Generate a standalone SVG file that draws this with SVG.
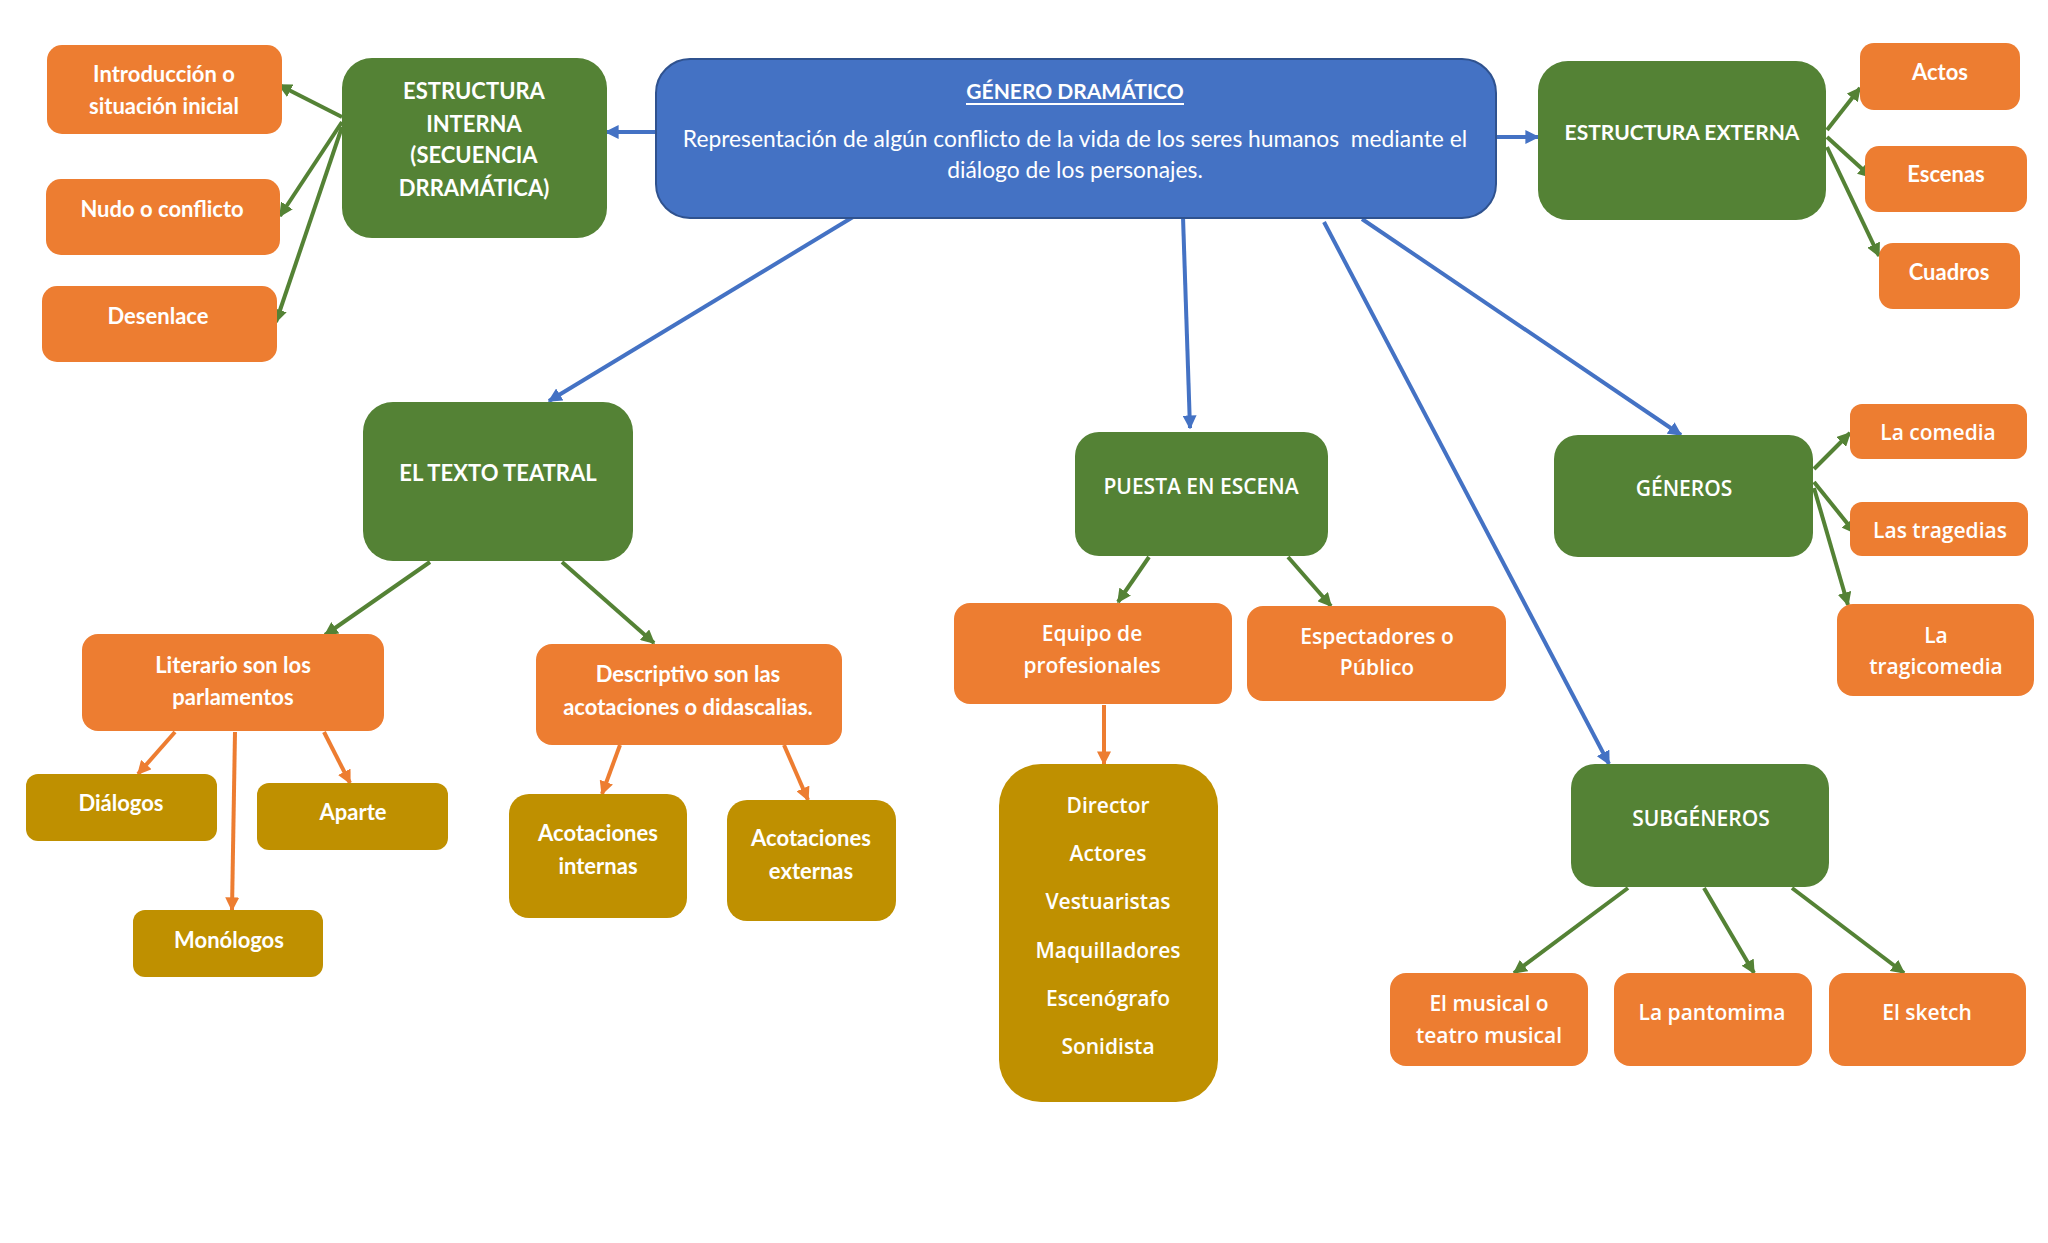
<svg xmlns="http://www.w3.org/2000/svg" width="2048" height="1243" viewBox="0 0 2048 1243">
<style>
.or{fill:#ED7D31}
.gr{fill:#548235}
.go{fill:#BF9000}
.bl{fill:#4472C4;stroke:#2F528F;stroke-width:2}
.t{fill:#fff;font-family:Lato,"Liberation Sans",sans-serif;font-weight:700;font-size:22px;text-anchor:middle}
.s{fill:#fff;font-family:"Open Sans","Noto Sans",sans-serif;font-weight:600;font-size:21px;text-anchor:middle}
.d{fill:#fff;font-family:Lato,"Liberation Sans",sans-serif;font-weight:400;font-size:22.8px;text-anchor:middle}
.cb{stroke:#4472C4;stroke-width:4;fill:none;marker-end:url(#ab)}
.cg{stroke:#548235;stroke-width:4;fill:none;marker-end:url(#ag)}
.co{stroke:#ED7D31;stroke-width:4;fill:none;marker-end:url(#ao)}
</style>
<defs>
<marker id="ab" viewBox="0 0 10 10" refX="9" refY="5" markerWidth="14" markerHeight="14" markerUnits="userSpaceOnUse" orient="auto"><path d="M0,0 L10,5 L0,10 z" fill="#4472C4"/></marker>
<marker id="ag" viewBox="0 0 10 10" refX="9" refY="5" markerWidth="14" markerHeight="14" markerUnits="userSpaceOnUse" orient="auto"><path d="M0,0 L10,5 L0,10 z" fill="#548235"/></marker>
<marker id="ao" viewBox="0 0 10 10" refX="9" refY="5" markerWidth="14" markerHeight="14" markerUnits="userSpaceOnUse" orient="auto"><path d="M0,0 L10,5 L0,10 z" fill="#ED7D31"/></marker>
</defs>
<rect width="2048" height="1243" fill="#fff"/>

<g id="connectors">
<line class="cb" x1="655" y1="132" x2="606" y2="132"/>
<line class="cb" x1="1496" y1="137" x2="1538" y2="137"/>
<line class="cb" x1="853" y1="217" x2="549" y2="401"/>
<line class="cb" x1="1183" y1="217" x2="1190" y2="428"/>
<line class="cb" x1="1324" y1="222" x2="1609" y2="764"/>
<line class="cb" x1="1362" y1="219" x2="1681" y2="435"/>
<line class="cg" x1="342" y1="117" x2="279" y2="85"/>
<line class="cg" x1="342" y1="122" x2="280" y2="216"/>
<line class="cg" x1="342" y1="127" x2="276" y2="322"/>
<line class="cg" x1="1827" y1="130" x2="1860" y2="88"/>
<line class="cg" x1="1827" y1="137" x2="1871" y2="177"/>
<line class="cg" x1="1827" y1="147" x2="1879" y2="256"/>
<line class="cg" x1="430" y1="562" x2="325" y2="635"/>
<line class="cg" x1="562" y1="562" x2="654" y2="643"/>
<line class="cg" x1="1149" y1="557" x2="1118" y2="602"/>
<line class="cg" x1="1288" y1="557" x2="1331" y2="606"/>
<line class="cg" x1="1814" y1="469" x2="1850" y2="433"/>
<line class="cg" x1="1814" y1="482" x2="1855" y2="533"/>
<line class="cg" x1="1814" y1="488" x2="1848" y2="605"/>
<line class="cg" x1="1628" y1="888" x2="1514" y2="973"/>
<line class="cg" x1="1704" y1="888" x2="1754" y2="973"/>
<line class="cg" x1="1792" y1="888" x2="1904" y2="973"/>
<line class="co" x1="175" y1="732" x2="138" y2="774"/>
<line class="co" x1="235" y1="732" x2="232" y2="910"/>
<line class="co" x1="324" y1="732" x2="350" y2="783"/>
<line class="co" x1="620" y1="745" x2="602" y2="794"/>
<line class="co" x1="784" y1="745" x2="808" y2="800"/>
<line class="co" x1="1104" y1="705" x2="1104" y2="764"/>
</g>

<g id="genero-dramatico">
<rect class="bl" x="656" y="59" width="840" height="159" rx="34"/>
<text class="t" x="1075" y="99" style="font-size:21px">GÉNERO DRAMÁTICO</text>
<line x1="966" y1="104" x2="1184" y2="104" stroke="#fff" stroke-width="2"/>
<text class="d" x="1075" y="147" xml:space="preserve">Representación de algún conflicto de la vida de los seres humanos  mediante el</text>
<text class="d" x="1075" y="178">diálogo de los personajes.</text>
</g>

<g id="estructura-interna">
<rect class="gr" x="342" y="58" width="265" height="180" rx="30"/>
<text class="t" x="474" y="99">ESTRUCTURA</text>
<text class="t" x="474" y="132">INTERNA</text>
<text class="t" x="474" y="163">(SECUENCIA</text>
<text class="t" x="474" y="196">DRRAMÁTICA)</text>
</g>
<g id="introduccion">
<rect class="or" x="47" y="45" width="235" height="89" rx="15"/>
<text class="t" x="164" y="82">Introducción o</text>
<text class="t" x="164" y="114">situación inicial</text>
</g>
<g id="nudo">
<rect class="or" x="46" y="179" width="234" height="76" rx="15"/>
<text class="t" x="162" y="217">Nudo o conflicto</text>
</g>
<g id="desenlace">
<rect class="or" x="42" y="286" width="235" height="76" rx="15"/>
<text class="t" x="158" y="324">Desenlace</text>
</g>

<g id="estructura-externa">
<rect class="gr" x="1538" y="61" width="288" height="159" rx="30"/>
<text class="t" x="1682" y="140" style="font-size:21px">ESTRUCTURA EXTERNA</text>
</g>
<g id="actos">
<rect class="or" x="1860" y="43" width="160" height="67" rx="14"/>
<text class="t" x="1940" y="80">Actos</text>
</g>
<g id="escenas">
<rect class="or" x="1865" y="146" width="162" height="66" rx="14"/>
<text class="t" x="1946" y="182">Escenas</text>
</g>
<g id="cuadros">
<rect class="or" x="1879" y="243" width="141" height="66" rx="14"/>
<text class="t" x="1949" y="280">Cuadros</text>
</g>

<g id="texto-teatral">
<rect class="gr" x="363" y="402" width="270" height="159" rx="30"/>
<text class="t" x="498" y="481">EL TEXTO TEATRAL</text>
</g>
<g id="literario">
<rect class="or" x="82" y="634" width="302" height="97" rx="16"/>
<text class="t" x="233" y="673">Literario son los</text>
<text class="t" x="233" y="705">parlamentos</text>
</g>
<g id="descriptivo">
<rect class="or" x="536" y="644" width="306" height="101" rx="16"/>
<text class="t" x="688" y="682">Descriptivo son las</text>
<text class="t" x="688" y="715">acotaciones o didascalias.</text>
</g>
<g id="dialogos">
<rect class="go" x="26" y="774" width="191" height="67" rx="12"/>
<text class="t" x="121" y="811">Diálogos</text>
</g>
<g id="aparte">
<rect class="go" x="257" y="783" width="191" height="67" rx="12"/>
<text class="t" x="353" y="820">Aparte</text>
</g>
<g id="monologos">
<rect class="go" x="133" y="910" width="190" height="67" rx="12"/>
<text class="t" x="229" y="948">Monólogos</text>
</g>
<g id="acotaciones-internas">
<rect class="go" x="509" y="794" width="178" height="124" rx="20"/>
<text class="t" x="598" y="841">Acotaciones</text>
<text class="t" x="598" y="874">internas</text>
</g>
<g id="acotaciones-externas">
<rect class="go" x="727" y="800" width="169" height="121" rx="20"/>
<text class="t" x="811" y="846">Acotaciones</text>
<text class="t" x="811" y="879">externas</text>
</g>

<g id="puesta-en-escena">
<rect class="gr" x="1075" y="432" width="253" height="124" rx="24"/>
<text class="s" x="1201" y="494">PUESTA EN ESCENA</text>
</g>
<g id="equipo">
<rect class="or" x="954" y="603" width="278" height="101" rx="16"/>
<text class="s" x="1092" y="641">Equipo de</text>
<text class="s" x="1092" y="673">profesionales</text>
</g>
<g id="espectadores">
<rect class="or" x="1247" y="606" width="259" height="95" rx="16"/>
<text class="s" x="1377" y="644">Espectadores o</text>
<text class="s" x="1377" y="675">Público</text>
</g>
<g id="profesionales-lista">
<rect class="go" x="999" y="764" width="219" height="338" rx="42"/>
<text class="s" x="1108" y="813">Director</text>
<text class="s" x="1108" y="861">Actores</text>
<text class="s" x="1108" y="909">Vestuaristas</text>
<text class="s" x="1108" y="958">Maquilladores</text>
<text class="s" x="1108" y="1006">Escenógrafo</text>
<text class="s" x="1108" y="1054">Sonidista</text>
</g>

<g id="generos">
<rect class="gr" x="1554" y="435" width="259" height="122" rx="24"/>
<text class="s" x="1684" y="496">GÉNEROS</text>
</g>
<g id="comedia">
<rect class="or" x="1850" y="404" width="177" height="55" rx="12"/>
<text class="s" x="1938" y="440">La comedia</text>
</g>
<g id="tragedias">
<rect class="or" x="1850" y="502" width="178" height="54" rx="12"/>
<text class="s" x="1940" y="538">Las tragedias</text>
</g>
<g id="tragicomedia">
<rect class="or" x="1837" y="604" width="197" height="92" rx="16"/>
<text class="s" x="1936" y="643">La</text>
<text class="s" x="1936" y="674">tragicomedia</text>
</g>

<g id="subgeneros">
<rect class="gr" x="1571" y="764" width="258" height="123" rx="24"/>
<text class="s" x="1701" y="826">SUBGÉNEROS</text>
</g>
<g id="musical">
<rect class="or" x="1390" y="973" width="198" height="93" rx="16"/>
<text class="s" x="1489" y="1011">El musical o</text>
<text class="s" x="1489" y="1043">teatro musical</text>
</g>
<g id="pantomima">
<rect class="or" x="1614" y="973" width="198" height="93" rx="16"/>
<text class="s" x="1712" y="1020">La pantomima</text>
</g>
<g id="sketch">
<rect class="or" x="1829" y="973" width="197" height="93" rx="16"/>
<text class="s" x="1927" y="1020">El sketch</text>
</g>
</svg>
